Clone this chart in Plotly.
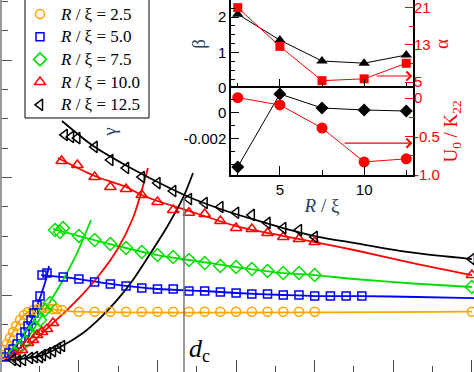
import plotly.graph_objects as go

# ---------------- main panel data (arbitrary units; labels are cropped) ----------------
labels = ["2.5", "5.0", "7.5", "10.0", "12.5"]
colors = ["#FFA500", "#0000FF", "#00E000", "#FF0000", "#000000"]
symbols = ["circle-open", "square-open", "diamond-open", "triangle-up-open", "triangle-left-open"]
msizes = [9, 8, 10, 10, 10]

grid_10_40 = [1.0, 1.2, 1.4, 1.6, 1.8, 2.0, 2.2, 2.4, 2.6, 2.8, 3.0, 3.2, 3.4, 3.6, 3.8, 4.0]

# R/xi = 2.5
orange_x = [0.022, 0.047, 0.085, 0.123, 0.162, 0.200, 0.251, 0.302, 0.352, 0.416, 0.480, 0.543,
            0.607, 0.670, 0.721, 0.785] + grid_10_40 + [6.0]
orange_y = [0.489, 0.532, 0.583, 0.634, 0.685, 0.736, 0.787, 0.830, 0.855, 0.872, 0.881, 0.889,
            0.889, 0.881, 0.881, 0.872] + [0.858] * 16 + [0.858]
orange_fit_x = [0.0, 0.06, 0.12, 0.19, 0.25, 0.32, 0.38, 0.5, 0.7, 1.0, 6.0]
orange_fit_y = [0.447, 0.54, 0.634, 0.72, 0.787, 0.84, 0.866, 0.885, 0.875, 0.858, 0.858]

# R/xi = 5.0
blue_x = [0.060, 0.111, 0.162, 0.213, 0.263, 0.314, 0.353, 0.391, 0.429, 0.467, 0.505,
          0.531, 0.594, 0.8] + grid_10_40 + [4.2, 4.4, 4.6]
blue_y = [0.472, 0.506, 0.540, 0.583, 0.634, 0.685, 0.736, 0.787, 0.847, 0.915, 0.991,
          1.170, 1.187, 1.153, 1.136, 1.111, 1.094, 1.077, 1.060, 1.051, 1.051, 1.034, 1.034,
          1.026, 1.017, 1.009, 1.009, 1.000, 1.000, 0.991, 0.991, 0.991, 0.991]
blue_rise_x = [0.0, 0.111, 0.213, 0.314, 0.391, 0.467, 0.531, 0.582, 0.620]
blue_rise_y = [0.447, 0.498, 0.574, 0.677, 0.779, 0.906, 1.026, 1.136, 1.247]
blue_fall_x = [0.52, 0.8, 1.0, 1.4, 2.0, 2.6, 3.0, 3.6, 4.0, 4.6, 5.3, 6.05]
blue_fall_y = [1.170, 1.153, 1.136, 1.094, 1.051, 1.034, 1.017, 1.000, 0.991, 0.991, 0.983, 0.974]

# R/xi = 7.5
green_x = [0.187, 0.251, 0.314, 0.378, 0.441, 0.505, 0.569, 0.632,
           0.696, 0.760, 0.798] + grid_10_40 + [6.0]
green_y = [0.506, 0.557, 0.600, 0.677, 0.728, 0.787, 0.872, 0.932,
           1.553, 1.536, 1.570, 1.502, 1.468, 1.434, 1.400, 1.366, 1.340, 1.323, 1.298, 1.272,
           1.247, 1.238, 1.221, 1.204, 1.187, 1.187, 1.170, 1.068]
green_rise_x = [0.0, 0.187, 0.314, 0.441, 0.569, 0.670, 0.798, 0.976, 1.154]
green_rise_y = [0.447, 0.506, 0.600, 0.728, 0.872, 0.983, 1.128, 1.357, 1.638]
green_fall_x = [0.67, 1.0, 1.6, 2.0, 2.4, 3.0, 3.6, 4.0, 4.5, 5.25, 6.0]
green_fall_y = [1.562, 1.502, 1.400, 1.340, 1.298, 1.238, 1.187, 1.170, 1.136, 1.098, 1.068]

# R/xi = 10.0
red_x = [0.187, 0.276, 0.352, 0.416, 0.467, 0.531, 0.594, 0.670,
         0.78, 0.98, 1.2, 1.4, 1.6, 1.8, 2.0, 2.2, 2.4, 2.6, 2.8, 3.0, 3.2, 3.4, 3.6, 3.8, 4.0, 6.0]
red_y = [0.489, 0.532, 0.591, 0.617, 0.660, 0.685, 0.711, 0.762,
         2.140, 2.106, 2.004, 1.919, 1.902, 1.851, 1.791, 1.723, 1.700, 1.689, 1.630, 1.570,
         1.562, 1.528, 1.494, 1.477, 1.451, 1.170]
red_rise_x = [0.0, 0.187, 0.378, 0.670, 0.849, 1.052, 1.269, 1.485, 1.688, 1.879]
red_rise_y = [0.447, 0.489, 0.583, 0.762, 0.872, 1.009, 1.179, 1.383, 1.655, 2.081]
red_fall_x = [0.734, 1.2, 1.6, 1.8, 2.0, 2.4, 3.0, 3.6, 4.0, 4.5, 5.25, 6.0]
red_fall_y = [2.166, 2.013, 1.919, 1.851, 1.800, 1.715, 1.587, 1.502, 1.451, 1.383, 1.272, 1.170]

# R/xi = 12.5
black_x = [0.162, 0.225, 0.289, 0.378, 0.441, 0.505, 0.543, 0.607, 0.670, 0.734, 0.785,
           0.82, 0.9, 0.98, 1.2, 1.4, 1.6, 1.8, 2.0, 2.2, 2.4, 2.6, 2.8, 3.0, 3.2, 3.4, 3.6, 3.8, 4.0, 6.0]
black_y = [0.447, 0.438, 0.447, 0.464, 0.472, 0.472, 0.489, 0.506, 0.523, 0.549, 0.566,
           2.362, 2.345, 2.336, 2.260, 2.149, 2.081, 2.004, 1.953, 1.885, 1.817, 1.783, 1.749,
           1.700, 1.681, 1.613, 1.570, 1.553, 1.494, 1.306]
black_rise_x = [0.0, 0.251, 0.505, 0.785, 1.052, 1.269, 1.485, 1.688, 1.905, 2.121, 2.324, 2.452]
black_rise_y = [0.447, 0.455, 0.481, 0.566, 0.677, 0.804, 0.957, 1.128, 1.349, 1.579, 1.826, 2.038]
black_fall_x = [0.785, 1.183, 1.59, 2.0, 2.4, 2.8, 3.2, 3.6, 4.0, 4.5, 5.25, 6.0]
black_fall_y = [2.481, 2.268, 2.106, 1.962, 1.834, 1.732, 1.647, 1.570, 1.502, 1.443, 1.36, 1.306]

d_c = 2.337
d_c_top = 1.826

# ---------------- inset data ----------------
R_xi = [2.5, 5.0, 7.5, 10.0, 12.5]
beta = [2.08, 1.35, 0.76, 0.70, 0.93]
alpha = [21.05, 12.7, 5.3, 5.7, 9.05]
gamma = [-0.00415, 0.00146, 0.00038, 0.00023, 0.00015]
U0_K22 = [0.004, -0.09, -0.39, -0.83, -0.79]

legend_rows = [0, 1, 2, 3, 4]

SERIF = "Liberation Serif"
SANS = "Liberation Sans"
RED = "#FF0000"
W, H = 474, 372

fig = go.Figure()

markers = [(orange_x, orange_y), (blue_x, blue_y), (green_x, green_y), (red_x, red_y), (black_x, black_y)]
fits = [[(orange_fit_x, orange_fit_y)],
        [(blue_rise_x, blue_rise_y), (blue_fall_x, blue_fall_y)],
        [(green_rise_x, green_rise_y), (green_fall_x, green_fall_y)],
        [(red_rise_x, red_rise_y), (red_fall_x, red_fall_y)],
        [(black_rise_x, black_rise_y), (black_fall_x, black_fall_y)]]

for i in range(5):
    for fx, fy in fits[i]:
        fig.add_trace(go.Scatter(x=fx, y=fy, mode="lines", showlegend=False, hoverinfo="skip",
                                 line=dict(color=colors[i], width=1.8, shape="spline", smoothing=0.8),
                                 xaxis="x", yaxis="y"))
for i in range(5):
    mx, my = markers[i]
    fig.add_trace(go.Scatter(x=mx, y=my, mode="markers", name="<i>R</i> / ξ = " + labels[i],
                             showlegend=False,
                             marker=dict(symbol=symbols[i], size=msizes[i], color=colors[i],
                                         line=dict(width=1.5, color=colors[i])),
                             xaxis="x", yaxis="y"))

# hand-made legend (keeps the reference's tight row spacing)
for i in legend_rows:
    fig.add_trace(go.Scatter(x=[0.0805], y=[i], mode="markers", showlegend=False, hoverinfo="skip",
                             marker=dict(symbol=symbols[i], size=msizes[i], color=colors[i],
                                         line=dict(width=1.5, color=colors[i])),
                             xaxis="x6", yaxis="y6"))
    fig.add_annotation(xref="x6", yref="y6", x=0.1186, y=i, xanchor="left", yanchor="middle",
                       text="<i>R</i> / ξ = " + labels[i], showarrow=False,
                       font=dict(family=SERIF, size=17, color="black"))
fig.add_shape(type="rect", xref="paper", yref="paper", x0=23 / 472, x1=147 / 472,
              y0=1 - 118 / H, y1=1.05, line=dict(color="black", width=1),
              fillcolor="white", layer="below")

# inset traces
fig.add_trace(go.Scatter(x=R_xi, y=beta, mode="lines+markers", showlegend=False,
                         line=dict(color="black", width=1),
                         marker=dict(symbol="triangle-up", size=10, color="black"),
                         xaxis="x2", yaxis="y2"))
fig.add_trace(go.Scatter(x=R_xi, y=alpha, mode="lines+markers", showlegend=False,
                         line=dict(color=RED, width=1),
                         marker=dict(symbol="square", size=9, color=RED),
                         xaxis="x2", yaxis="y3"))
fig.add_trace(go.Scatter(x=R_xi, y=gamma, mode="lines+markers", showlegend=False,
                         line=dict(color="black", width=1),
                         marker=dict(symbol="diamond", size=10, color="black"),
                         xaxis="x4", yaxis="y4"))
fig.add_trace(go.Scatter(x=R_xi, y=U0_K22, mode="lines+markers", showlegend=False,
                         line=dict(color=RED, width=1),
                         marker=dict(symbol="circle", size=11, color=RED),
                         xaxis="x4", yaxis="y5"))

ins_x = [229 / 472, 411 / 472]
top_dom = [1 - 88 / H, 1.0]
bot_dom = [1 - 175 / H, 1 - 88 / H]

tickfont = dict(family=SANS, size=15, color="black")
redfont = dict(family=SANS, size=15, color=RED)

fig.update_layout(
    width=W, height=H,
    margin=dict(l=2, r=0, t=0, b=0, autoexpand=False),
    paper_bgcolor="white", plot_bgcolor="rgba(0,0,0,0)",
    showlegend=False,
    xaxis=dict(domain=[0, 1], range=[0.0216, 6.027], showline=False, showgrid=False, zeroline=False,
               ticks="inside", ticklen=12, tickcolor="#444", tick0=0, dtick=1, showticklabels=False,
               minor=dict(ticks="inside", ticklen=6, tickcolor="#444", dtick=0.5, showgrid=False)),
    yaxis=dict(domain=[0, 1], range=[0.3447, 3.5106], showline=True, linecolor="#999", linewidth=2,
               showgrid=False, zeroline=False, ticks="inside", ticklen=10, tickcolor="#555",
               tick0=0, dtick=1, showticklabels=False,
               minor=dict(ticks="inside", ticklen=6, tickcolor="#555", dtick=0.25, showgrid=False)),
    xaxis6=dict(domain=[0, 1], range=[0, 1], visible=False, anchor="y6", overlaying="x"),
    yaxis6=dict(domain=[0, 1], range=[(H - 14) / 22.7, -14 / 22.7], visible=False, anchor="x6",
                overlaying="y"),
    # inset top panel
    xaxis2=dict(domain=ins_x, anchor="y2", range=[2.1, 12.9], showline=False,
                showgrid=False, zeroline=False, ticks="inside",
                ticklen=9, tickcolor="black", tick0=0, dtick=5, showticklabels=False,
                minor=dict(ticks="inside", ticklen=5, dtick=2.5, tickcolor="black")),
    yaxis2=dict(domain=top_dom, anchor="x2", range=[0, 2.48], showline=True, linecolor="black",
                linewidth=1.5, mirror=True, showgrid=False, zeroline=False, ticks="inside",
                ticklen=8, tickcolor="black", dtick=1, tickfont=tickfont, ticklabeloverflow="allow",
                minor=dict(ticks="inside", ticklen=4, dtick=0.25, tickcolor="black"),
                title=dict(text="β", font=dict(family=SERIF, size=19), standoff=7)),
    yaxis3=dict(overlaying="y2", anchor="x2", side="right", range=[3.72, 22.7], showline=False,
                showgrid=False, zeroline=False, ticks="inside", ticklen=8, tickcolor=RED,
                tickvals=[5, 13, 21], tickfont=redfont, ticklabeloverflow="allow",
                minor=dict(ticks="inside", ticklen=4, tick0=1, dtick=4, tickcolor=RED),
                title=dict(text="α", font=dict(family=SERIF, size=19, color=RED), standoff=0)),
    # inset bottom panel
    xaxis4=dict(domain=ins_x, anchor="y4", range=[2.1, 12.9], showline=True, linecolor="black",
                linewidth=2, mirror=True, showgrid=False, zeroline=False, ticks="inside",
                ticklen=9, tickcolor="black", tick0=0, dtick=5, tickfont=tickfont,
                ticklabeloverflow="allow",
                minor=dict(ticks="inside", ticklen=5, dtick=2.5, tickcolor="black"),
                title=dict(text="<i>R</i> / ξ", font=dict(family=SERIF, size=19), standoff=2)),
    yaxis4=dict(domain=bot_dom, anchor="x4", range=[-0.00477, 0.00192], showline=True,
                linecolor="black", linewidth=1.5, mirror=True, showgrid=False, zeroline=False,
                ticks="inside", ticklen=8, tickcolor="black", tickvals=[0, -0.002],
                ticktext=["0", "-0.002"], tickfont=tickfont, ticklabeloverflow="allow",
                minor=dict(ticks="inside", ticklen=4, dtick=0.001, tickcolor="black"),
                title=dict(text="γ", font=dict(family=SERIF, size=19), standoff=62)),
    yaxis5=dict(overlaying="y4", anchor="x4", side="right", range=[-1.0, 0.13], showline=False,
                showgrid=False, zeroline=False, ticks="inside", ticklen=8, tickcolor=RED,
                tickvals=[0, -0.5, -1.0], ticktext=["0", "-0.5", "-1.0"], tickfont=redfont,
                ticklabeloverflow="allow",
                minor=dict(ticks="inside", ticklen=4, dtick=0.25, tickcolor=RED),
                title=dict(text="U<sub>0</sub> / K<sub>22</sub>",
                           font=dict(family=SERIF, size=19, color=RED), standoff=2)),
)

# d_c marker line and label
fig.add_shape(type="line", xref="x", yref="y", x0=d_c, x1=d_c, y0=0.30, y1=d_c_top,
              line=dict(color="#777", width=1.5))
fig.add_annotation(xref="x", yref="y", x=d_c + 0.04, y=0.53, xanchor="left", yanchor="middle",
                   text="<i>d</i><sub>c</sub>", showarrow=False,
                   font=dict(family=SERIF, size=26, color="black"))

# red arrows in inset pointing to the right-hand axes
fig.add_annotation(xref="x2", yref="y3", x=12.86, y=6.3, axref="x2", ayref="y3", ax=10.65, ay=6.3,
                   text="", showarrow=True, arrowhead=4, arrowsize=1.6, arrowwidth=1.1, arrowcolor=RED)
fig.add_annotation(xref="x4", yref="y5", x=12.86, y=-0.586, axref="x4", ayref="y5", ax=8.75, ay=-0.586,
                   text="", showarrow=True, arrowhead=4, arrowsize=1.6, arrowwidth=1.1, arrowcolor=RED)

fig.write_html("out.html", config={"displayModeBar": False},
               post_script="document.body.style.margin='0';document.body.style.overflow='hidden';")
